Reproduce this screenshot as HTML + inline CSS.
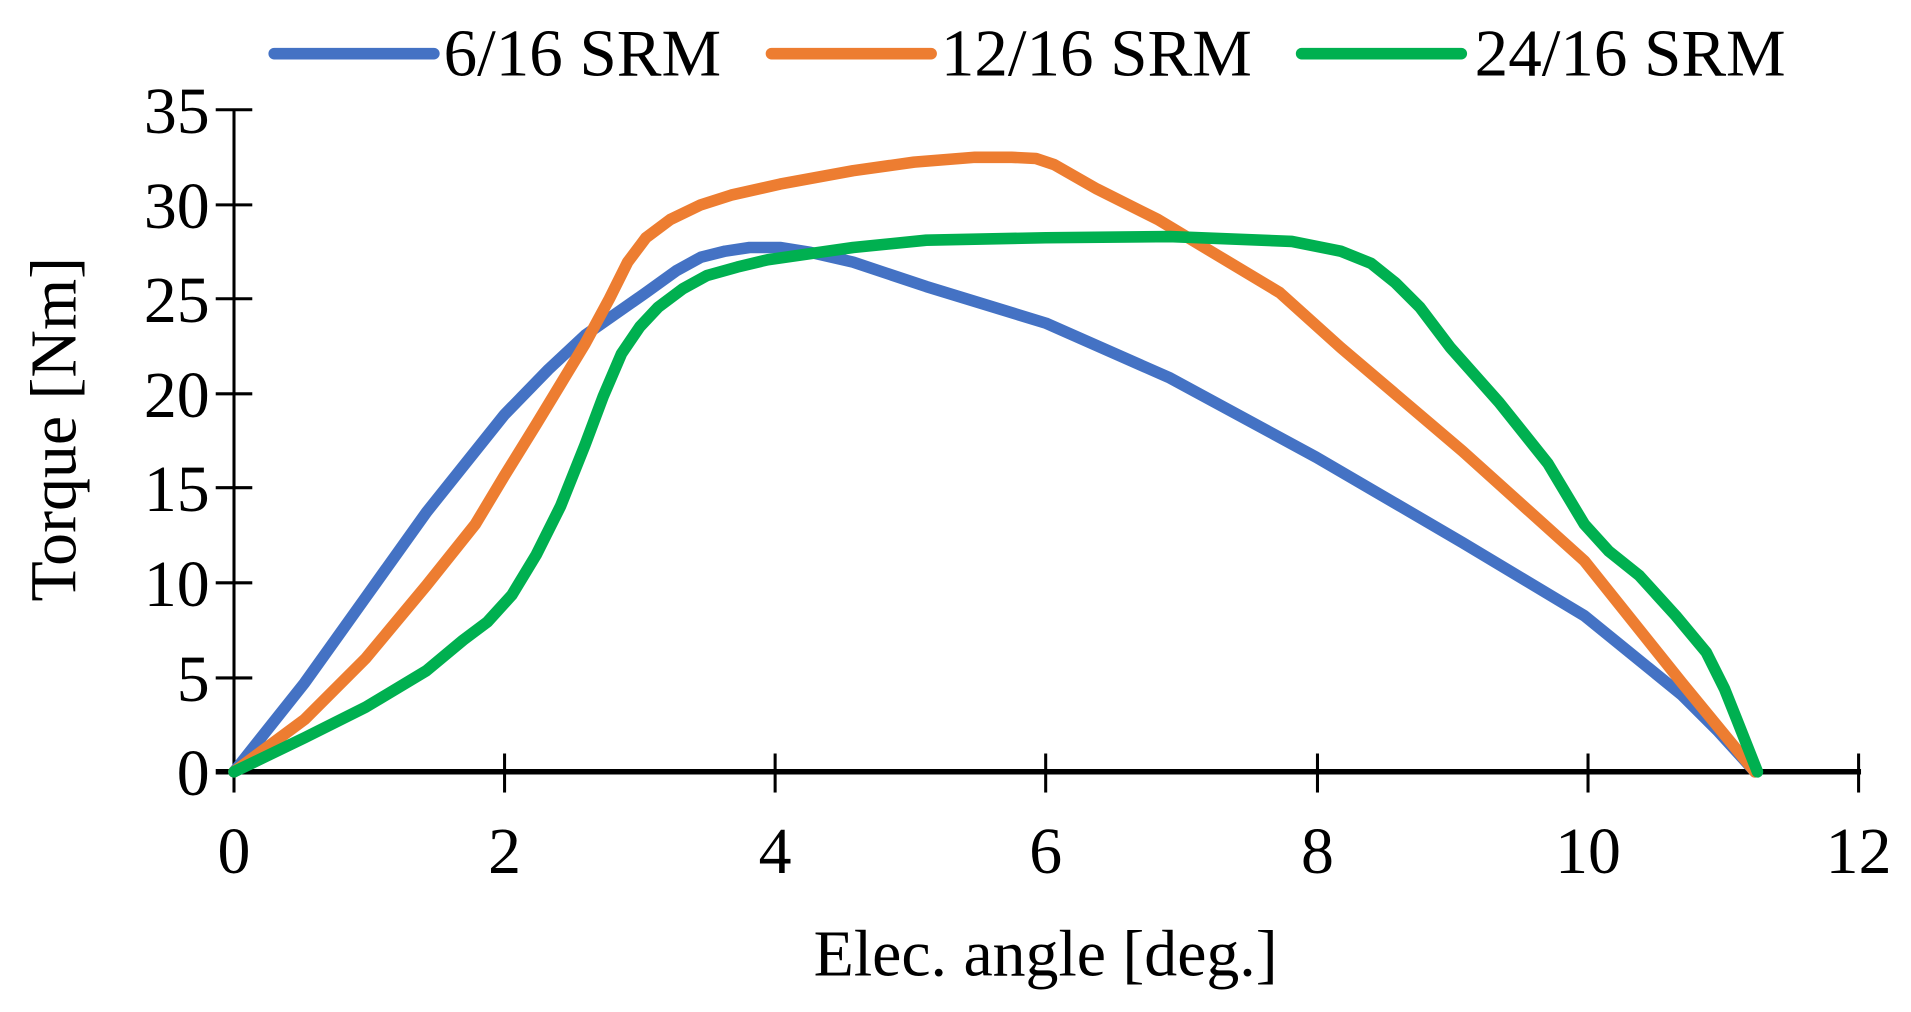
<!DOCTYPE html>
<html><head><meta charset="utf-8"><style>
html,body{margin:0;padding:0;background:#fff;}
svg{display:block;}
text{font-family:"Liberation Serif",serif;fill:#000;}
</style></head><body>
<svg width="1911" height="1012" viewBox="0 0 1568 830" preserveAspectRatio="none">
<g stroke="#000" stroke-width="2.5">
<line x1="192" y1="90" x2="192" y2="635"/>
<line x1="177" y1="90" x2="207" y2="90"/>
<line x1="177" y1="168" x2="207" y2="168"/>
<line x1="177" y1="245" x2="207" y2="245"/>
<line x1="177" y1="323" x2="207" y2="323"/>
<line x1="177" y1="400" x2="207" y2="400"/>
<line x1="177" y1="478" x2="207" y2="478"/>
<line x1="177" y1="556" x2="207" y2="556"/>
<line x1="414" y1="618" x2="414" y2="650"/>
<line x1="636" y1="618" x2="636" y2="650"/>
<line x1="858" y1="618" x2="858" y2="650"/>
<line x1="1081" y1="618" x2="1081" y2="650"/>
<line x1="1303" y1="618" x2="1303" y2="650"/>
<line x1="1525" y1="618" x2="1525" y2="650"/>
<line x1="192" y1="618" x2="192" y2="650"/>
</g>
<line x1="177" y1="633" x2="1527" y2="633" stroke="#000" stroke-width="4.5"/>
<g font-size="54" text-anchor="end">
<text x="172" y="109">35</text><text x="172" y="187">30</text><text x="172" y="264">25</text>
<text x="172" y="342">20</text><text x="172" y="419">15</text><text x="172" y="497">10</text>
<text x="172" y="575">5</text><text x="172" y="652">0</text>
</g>
<g font-size="54" text-anchor="middle">
<text x="192" y="716">0</text><text x="414" y="716">2</text><text x="636" y="716">4</text>
<text x="858" y="716">6</text><text x="1081" y="716">8</text><text x="1303" y="716">10</text><text x="1525" y="716">12</text>
<text x="858" y="800">Elec. angle [deg.]</text>
<text transform="translate(62,352) rotate(-90)">Torque [Nm]</text>
</g>
<g fill="none" stroke-width="9.5" stroke-linecap="round" stroke-linejoin="round">
<polyline stroke="#4472C4" points="192,633 250,560 300,490 350,420 414,340 450,303 480,275 530,240 555,222 575,211 595,206 615,203 640,203 665,207 700,215 760,235 858,265 960,310 1080,375 1200,445 1300,505 1380,570 1410,600 1440,633"/>
<polyline stroke="#ED7D31" points="192,633 250,590 300,540 350,480 390,430 414,390 440,348 460,315 480,282 500,245 515,215 530,195 550,180 575,168 600,160 640,151 700,140 750,133 800,129 830,129 850,130 865,135 900,155 950,180 1000,210 1050,240 1100,285 1200,370 1300,460 1380,560 1440,633"/>
<polyline stroke="#00B050" points="192,633 250,605 300,580 350,550 380,525 400,510 420,488 440,455 460,415 480,365 495,325 510,290 525,268 540,252 560,237 580,226 605,219 630,213 700,203 760,197 858,195 960,194 1060,198 1100,206 1125,216 1145,232 1165,252 1190,285 1230,330 1270,380 1300,430 1320,452 1345,472 1375,505 1400,535 1415,565 1425,590 1442,633"/>
</g>
<g stroke-width="9.5" stroke-linecap="round">
<line x1="225" y1="44" x2="356" y2="44" stroke="#4472C4"/>
<line x1="633" y1="44" x2="764" y2="44" stroke="#ED7D31"/>
<line x1="1068" y1="44" x2="1199" y2="44" stroke="#00B050"/>
</g>
<g font-size="55">
<text x="364" y="62">6/16 SRM</text>
<text x="772" y="62">12/16 SRM</text>
<text x="1210" y="62">24/16 SRM</text>
</g>
</svg>
</body></html>
